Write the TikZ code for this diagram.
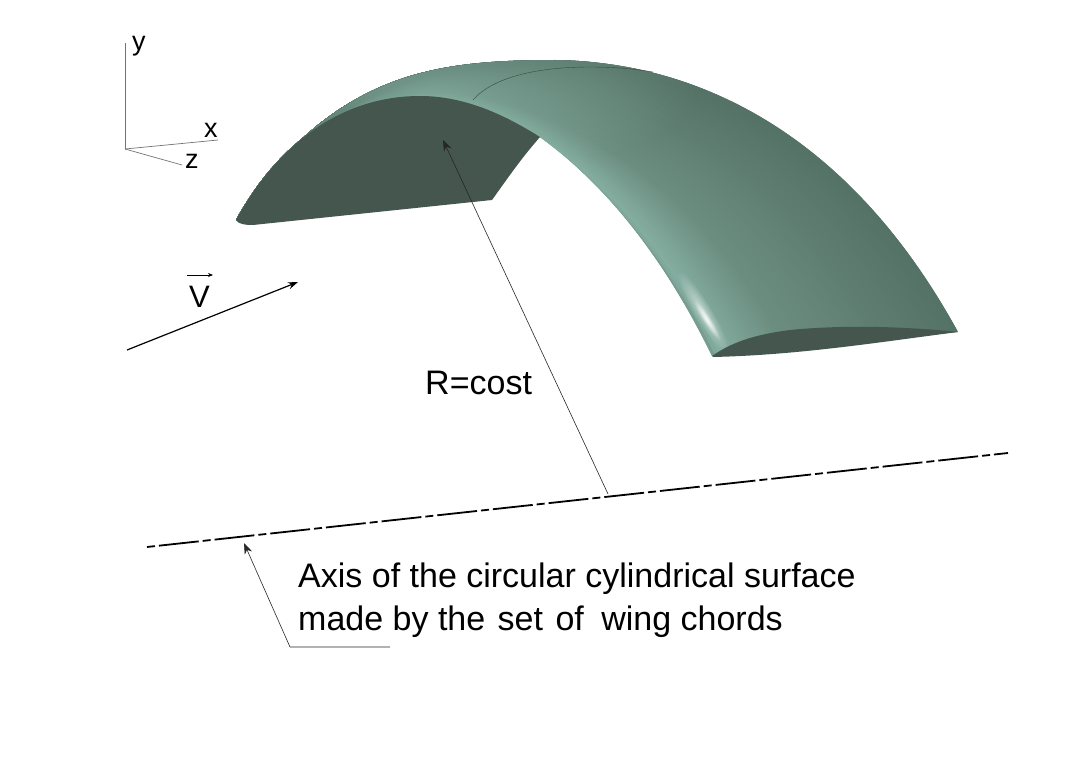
\documentclass[tikz,border=0pt]{standalone}
\usepackage{fontspec}
\setmainfont{Liberation Sans}
\usetikzlibrary{calc,arrows.meta,fadings}
\definecolor{wingdark}{HTML}{45564F}
\definecolor{wingedge}{HTML}{6D9085}
\definecolor{winglight}{HTML}{84AEA1}
\definecolor{wingmid}{HTML}{6B8D80}
\definecolor{wingfar}{HTML}{557266}
\tikzfading[name=glow,inner color=transparent!35,outer color=transparent!100]
\tikzfading[name=spark,inner color=transparent!0,outer color=transparent!100]
\tikzset{
  axisline/.style={draw=black!55,line width=0.7pt},
  leader/.style={draw=black!85,line width=0.6pt},
  tiparrow/.style={-{Stealth[length=11pt,width=8pt]}},
  label/.style={inner sep=0pt,anchor=base west,font=\fontsize{#1}{#1}\selectfont,text=black},
}
\begin{document}
\begin{tikzpicture}[x=1pt,y=-1pt]
\useasboundingbox (0,0) rectangle (1080,784);
% control points of the leading and trailing edges
\coordinate (L0) at (236,220); \coordinate (L1) at (280,140); \coordinate (L2) at (345,96); \coordinate (L3) at (420,96);
\coordinate (L4) at (465,96); \coordinate (L5) at (505,115); \coordinate (L6) at (540,137);
\coordinate (L7) at (620,195); \coordinate (L8) at (675,280); \coordinate (L9) at (712,356);
\coordinate (T0) at (236,220); \coordinate (T1) at (285,140); \coordinate (T2) at (350,90); \coordinate (T3) at (425,72);
\coordinate (T4) at (465,62); \coordinate (T5) at (510,60); \coordinate (T6) at (555,60);
\coordinate (T7) at (700,62); \coordinate (T8) at (850,135); \coordinate (T9) at (958,332);
% upper surface
\begin{scope}
\clip (T0) .. controls (T1) and (T2) .. (T3) .. controls (T4) and (T5) .. (T6) .. controls (T7) and (T8) .. (T9)
  -- (L9) .. controls (L8) and (L7) .. (L6) .. controls (L5) and (L4) .. (L3) .. controls (L2) and (L1) .. (L0) -- cycle;
\foreach \i in {0,...,60}{
  \pgfmathsetmacro\s{\i/60}
  \pgfmathsetmacro\p{\s<0.04 ? \s/0.04*100 : (\s<0.32 ? (\s-0.04)/0.28*100 : (\s-0.32)/0.68*100)}
  \ifdim\s pt<0.04pt \colorlet{strip}{winglight!\p!wingedge}\else
    \ifdim\s pt<0.32pt \colorlet{strip}{wingmid!\p!winglight}\else \colorlet{strip}{wingfar!\p!wingmid}\fi\fi
  \draw[strip,line width=9pt]
   ($(L0)!\s!(T0)$) .. controls ($(L1)!\s!(T1)$) and ($(L2)!\s!(T2)$) .. ($(L3)!\s!(T3)$)
   .. controls ($(L4)!\s!(T4)$) and ($(L5)!\s!(T5)$) .. ($(L6)!\s!(T6)$)
   .. controls ($(L7)!\s!(T7)$) and ($(L8)!\s!(T8)$) .. ($(L9)!\s!(T9)$);
}
% lighter crown
\fill[winglight,path fading=glow] (430,90) ellipse [x radius=270,y radius=90];
% highlight near the leading edge
\begin{scope}[transform canvas={shift={(703,312)},rotate=-59}]
\fill[white,opacity=.55,path fading=spark] (0,0) ellipse [x radius=48,y radius=9];
\end{scope}
\begin{scope}[transform canvas={shift={(707,320)},rotate=-57}]
\fill[white,opacity=.9,path fading=spark] (0,0) ellipse [x radius=24,y radius=4];
\end{scope}
\end{scope}
% faces seen from below
\fill[wingdark] (L0) .. controls (L1) and (L2) .. (L3) .. controls (L4) and (L5) .. (L6)
  .. controls (520,160) and (510,175) .. (492,200) -- (253,225) .. controls (245,225) and (238,224) .. (L0) -- cycle;
\fill[wingdark] (T9) .. controls (900,326) and (840,325) .. (790,330) .. controls (760,334) and (735,340) .. (L9)
  -- (713,357) .. controls (800,355) and (880,342) .. (T9) -- cycle;
% seam
\draw[black!35!wingfar,line width=0.4pt] (473,100) .. controls (490,80) and (530,67) .. (590,67) .. controls (615,67) and (635,69) .. (653,72);
% axes
\coordinate (O) at (125,149);
\coordinate (Y) at (125,43);
\coordinate (X) at (218,140);
\coordinate (Z) at (182,165);
\draw[axisline] (O) -- (Y);
\draw[axisline] (O) -- (X);
\draw[axisline] (O) -- (Z);
\node[label=27] (ylab) at (132,51) {y};
\node[label=27] (xlab) at (204,138) {x};
\node[label=27] (zlab) at (185,168) {z};
% velocity
\coordinate (V0) at (127,350);
\coordinate (V1) at (298,282);
\draw[black,line width=1.2pt,-{Stealth[length=10pt,width=7pt]}] (V0) -- (V1);
\node[label=31] (vlab) at (189,307) {V};
\coordinate (Va) at (187,275);
\coordinate (Vb) at (213,275);
\draw[black,line width=0.9pt,-{Stealth[length=5pt,width=4pt]}] (Va) -- (Vb);
% axis of the cylinder
\coordinate (A0) at (147,547);
\coordinate (A1) at (1008,453);
\draw[black,line width=1.8pt,dash pattern=on 40pt off 4pt on 8pt off 4pt,dash phase=44pt] (A0) -- (A1);
% radius
\coordinate (Rf) at (608,494);
\coordinate (Rt) at (443,140);
\draw[leader,tiparrow] (Rf) -- (Rt);
\node[label=34] (rlab) at (425,394) {R=cost};
% leader to the axis
\coordinate (P0) at (390,647);
\coordinate (P1) at (290,647);
\coordinate (P2) at (244,543);
\draw[leader,tiparrow] (P0) -- (P1) -- (P2);
\node[inner sep=0pt,anchor=base west,align=left,text=black,font=\fontsize{34}{43}\selectfont] (axlab) at (298,630) {\strut Axis of the circular cylindrical surface\\\strut made by the\hspace{3pt} set\hspace{3pt} of\hspace{8pt} wing chords};
\end{tikzpicture}
\end{document}
